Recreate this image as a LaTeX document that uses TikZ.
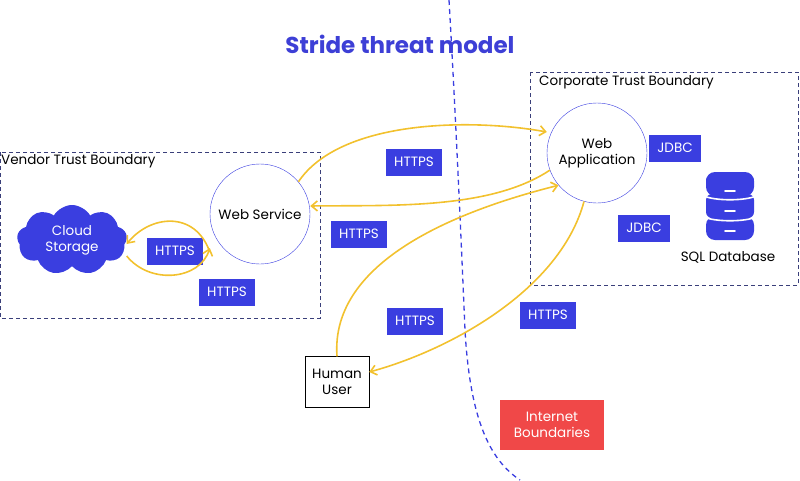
\documentclass[tikz,border=0pt]{standalone}
\usepackage{fontspec}
\setmainfont{Poppins}
\usetikzlibrary{shapes.symbols,arrows.meta}
\definecolor{bl}{HTML}{3A3EE0}
\definecolor{ttl}{HTML}{3D3FD6}
\definecolor{yl}{HTML}{F2C12E}
\definecolor{bd}{HTML}{3A3F7A}
\definecolor{rd}{HTML}{F04848}
\begin{document}
\begin{tikzpicture}[x=1pt,y=-1pt,
 lab/.style={fill=bl,text=white,font=\fontsize{13.5}{16}\selectfont,minimum height=27pt,inner xsep=8pt,inner ysep=0pt},
 circ/.style={circle,draw=bl,minimum size=100pt,inner sep=0pt,font=\fontsize{13.5}{16}\selectfont,align=center},
 bnd/.style={draw=bd,dashed,dash pattern=on 4pt off 3pt},
 arr/.style={draw=yl,line width=1.6pt,-{Straight Barb[length=6pt,width=10pt]}},
 txt/.style={font=\fontsize{13.5}{16}\selectfont}]
\useasboundingbox (0,0) rectangle (800,480);
\node[font=\bfseries\fontsize{23}{28}\selectfont,text=ttl] (title) at (400,44) {Stride threat model};
\draw[draw=bl,line width=1.3pt,dash pattern=on 5pt off 4pt] (449,0) .. controls (456,120) and (462,260) .. (465,330) .. controls (470,420) and (490,460) .. (520,480);
\draw[bnd] (0,152) rectangle (320,318);
\node[txt,anchor=west,inner sep=0pt] (vtb) at (1,161) {Vendor Trust Boundary};
\draw[bnd] (530,72) rectangle (798,285);
\node[txt,anchor=west,inner sep=0pt] (ctb) at (539,82) {Corporate Trust Boundary};
\node[circ] (ws) at (260,214) {Web Service};
\node[circ] (wa) at (597,153) {Web\\Application};
\node[cloud,cloud puffs=9,cloud puff arc=120,aspect=1.7,fill=bl,text=white,minimum width=110pt,minimum height=70pt,align=center,font=\fontsize{13.5}{16}\selectfont,inner sep=0pt] (cs) at (72,240) {Cloud\\Storage};
\node[draw=black,minimum width=64pt,minimum height=51pt,align=center,txt,inner sep=0pt] (hu) at (337,382) {Human\\User};
\node[fill=rd,text=white,minimum width=104pt,minimum height=50pt,align=center,txt,inner sep=0pt] (ib) at (552,425) {Internet\\Boundaries};
% database
\begin{scope}
\fill[bl,rounded corners=9pt] (706,172) rectangle (754,196);
\fill[bl,rounded corners=6pt] (706,194) rectangle (754,218);
\fill[bl,rounded corners=9pt] (706,216) rectangle (754,240);
\fill[bl] (730,180) ellipse (24pt and 8pt);
\draw[white,line width=1.6pt] (704,196) .. controls (715,201) and (745,201) .. (756,196);
\draw[white,line width=1.6pt] (704,217) .. controls (715,222) and (745,222) .. (756,217);
\draw[white,line width=1.8pt,line cap=round] (725,191) -- (735,191) (725,211) -- (735,211) (725,231) -- (735,231);
\end{scope}
\node[txt] (sql) at (728,257) {SQL Database};
% labels
\node[lab] (h1) at (175,251) {HTTPS};
\node[lab] (h2) at (227,292) {HTTPS};
\node[lab] (h3) at (414,162) {HTTPS};
\node[lab] (h4) at (359,234) {HTTPS};
\node[lab] (h5) at (415,321) {HTTPS};
\node[lab] (h6) at (548,315) {HTTPS};
\node[lab] (j1) at (675,148) {JDBC};
\node[lab] (j2) at (644,228) {JDBC};
% arrows
\draw[arr] (ws.40) .. controls (340,120) and (470,118) .. (wa.west |- 0,132);
\draw[arr] (wa.200) .. controls (490,210) and (390,205) .. (ws.east |- 0,206);
\draw[arr] (hu.north) .. controls (330,260) and (460,210) .. (wa.220);
\draw[arr] (wa.255) .. controls (560,290) and (450,350) .. (hu.east |- 0,372);
\draw[arr] (ws.west |- 0,252) .. controls (195,210) and (150,215) .. (cs.east |- 0,244);
\draw[arr] (cs.east |- 0,256) .. controls (150,285) and (200,280) .. (ws.west |- 0,248);
\end{tikzpicture}
\end{document}
